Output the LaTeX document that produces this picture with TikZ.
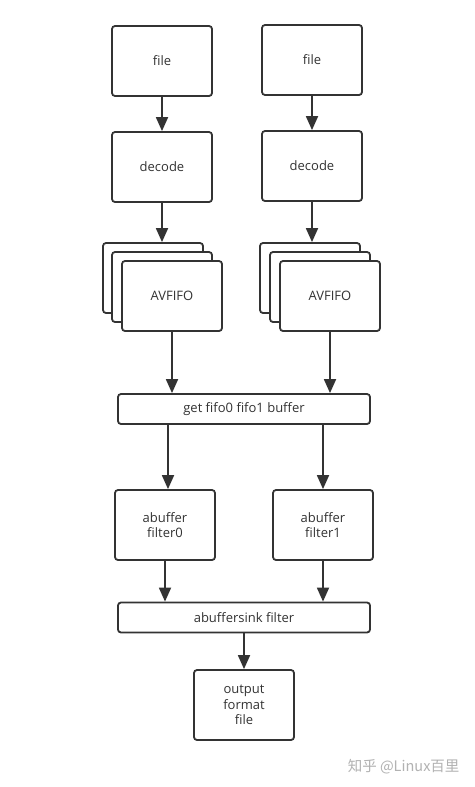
\documentclass[tikz,border=0pt]{standalone}
\usepackage{fontspec}
\setmainfont{Open Sans}
\newfontfamily\cjk{Noto Sans CJK SC}
\usetikzlibrary{arrows.meta}
\definecolor{ink}{RGB}{51,51,51}
\tikzset{
  box/.style={draw=ink, line width=1.8pt, rounded corners=3pt, fill=white,
    minimum width=100pt, minimum height=70pt, align=center, text=ink,
    font=\fontsize{13}{15.5}\selectfont, inner sep=0pt},
  wide/.style={box, minimum width=252pt, minimum height=30pt},
  conn/.style={draw=ink, line width=1.8pt, -{Triangle[width=12pt,length=14pt]}}
}
\begin{document}
\begin{tikzpicture}[x=1pt,y=-1pt]
\useasboundingbox[fill=white] (0,0) rectangle (474,787);
% left column
\node[box] (fileA) at (162,61) {file};
\node[box] (decA) at (162,167) {decode};
\node[box] (fifoAback) at (153,278) {};
\node[box] (fifoAmid) at (162,287) {};
\node[box] (fifoA) at (172,296) {AVFIFO};
% right column
\node[box] (fileB) at (312,60) {file};
\node[box] (decB) at (312,166) {decode};
\node[box] (fifoBback) at (310,278) {};
\node[box] (fifoBmid) at (320,287) {};
\node[box] (fifoB) at (330,296) {AVFIFO};
% middle
\node[wide] (get) at (244,409) {get fifo0 fifo1 buffer};
\node[box] (abufA) at (165,525) {abuffer\\filter0};
\node[box] (abufB) at (323,525) {abuffer\\filter1};
\node[wide] (sink) at (244,617.5) {abuffersink filter};
\node[box] (out) at (244,705) {output\\format\\file};
\node[text=black!30, font=\cjk\fontsize{14.5}{17}\selectfont, anchor=east] (wm) at (463,767) {知乎 @Linux百里};
% connectors
\draw[conn] (fileA) -- (decA);
\draw[conn] (fileB) -- (decB);
\draw[conn] (decA.south) -- (decA.south |- fifoAback.north);
\draw[conn] (decB.south) -- (decB.south |- fifoBback.north);
\draw[conn] (fifoA.south) -- (fifoA.south |- get.north);
\draw[conn] (fifoB.south) -- (fifoB.south |- get.north);
\draw[conn] ([xshift=3pt]abufA.north |- get.south) -- ([xshift=3pt]abufA.north);
\draw[conn] (abufB.north |- get.south) -- (abufB.north);
\draw[conn] (abufA.south) -- (abufA.south |- sink.north);
\draw[conn] (abufB.south) -- (abufB.south |- sink.north);
\draw[conn] (sink.south -| out.north) -- (out.north);
\end{tikzpicture}
\end{document}
